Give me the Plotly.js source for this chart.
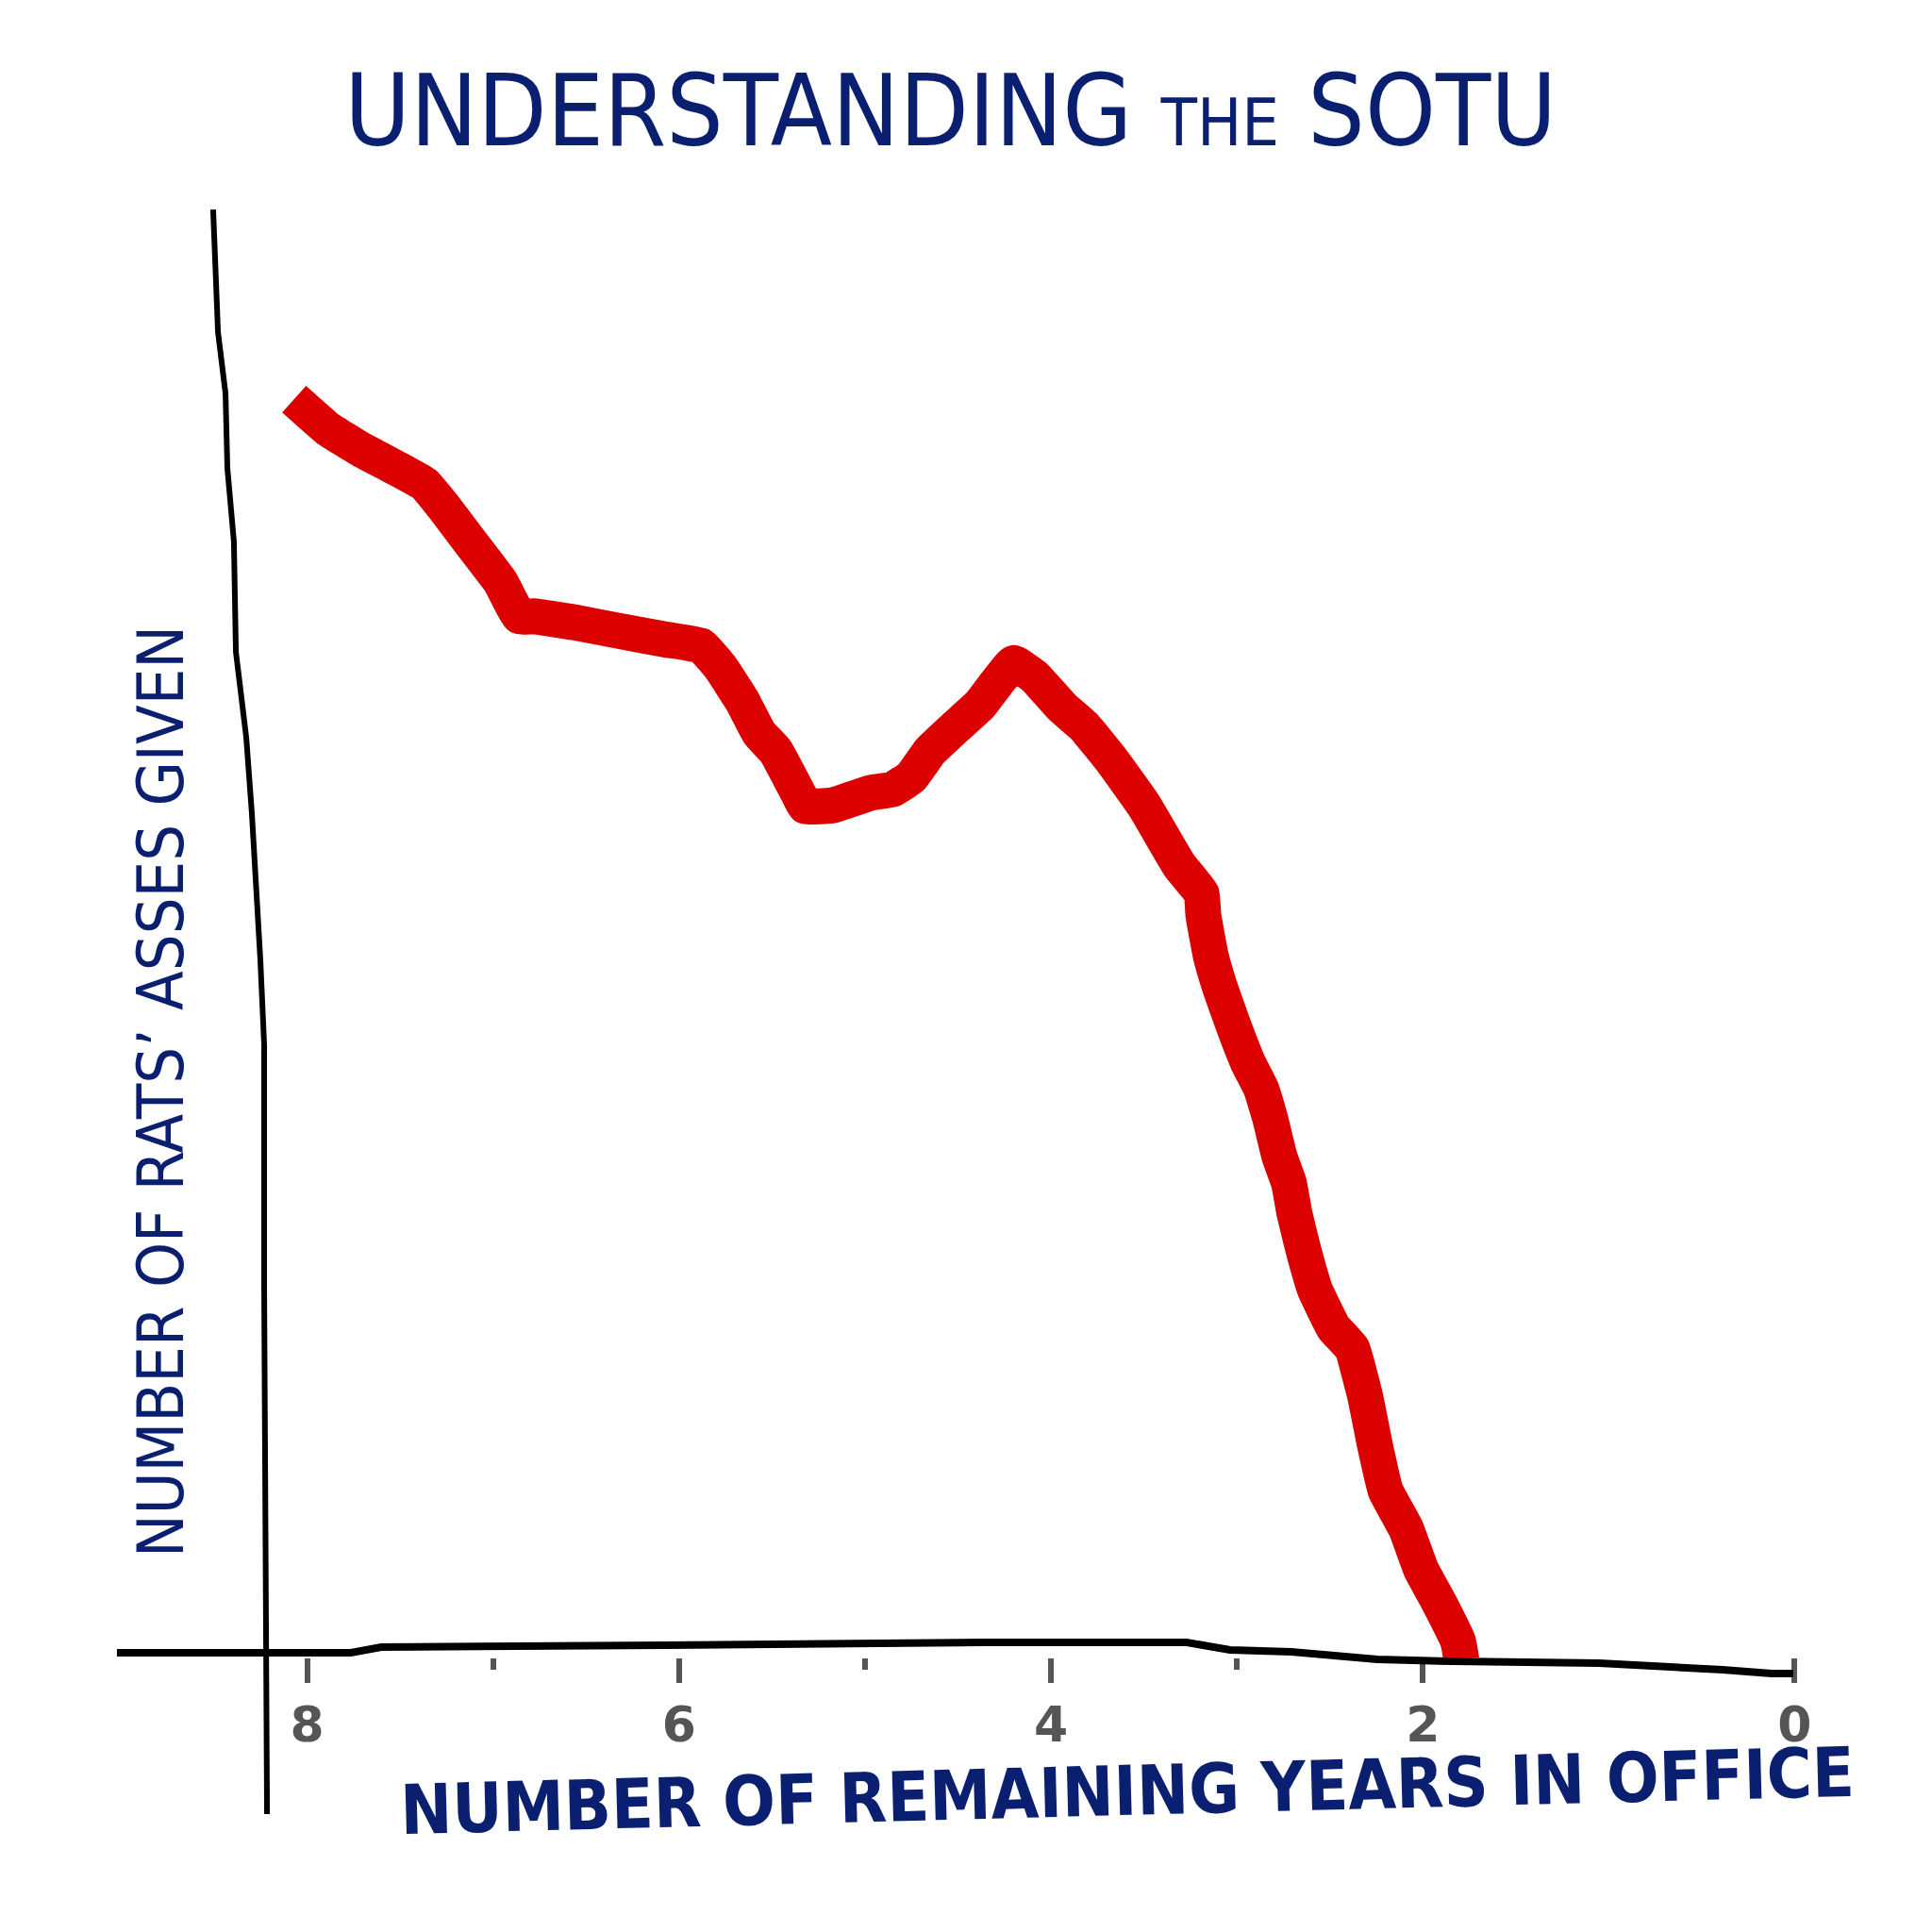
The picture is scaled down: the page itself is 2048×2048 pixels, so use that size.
<!DOCTYPE html>
<html>
<head>
<meta charset="utf-8">
<script src="https://cdn.plot.ly/plotly-3.0.1.min.js"></script>
<style>html,body{margin:0;padding:0;background:#fff;}</style>
</head>
<body>
<div id="chart" style="width:2048px;height:2048px;"></div>
<script>
// ---- data ----
const yearsRemaining = [8.07, 7.89, 7.71, 7.51, 7.37, 7.27, 7.13, 6.96, 6.86, 6.78, 6.56, 6.32, 6.07, 5.88, 5.78, 5.66, 5.57, 5.48, 5.36, 5.32, 5.17, 4.97, 4.85, 4.75, 4.65, 4.51, 4.38, 4.29, 4.20, 4.09, 3.94, 3.82, 3.67, 3.50, 3.31, 3.19, 3.18, 3.14, 3.09, 3.02, 2.94, 2.87, 2.82, 2.77, 2.72, 2.69, 2.64, 2.58, 2.48, 2.38, 2.31, 2.26, 2.20, 2.09, 2.01, 1.91, 1.81, 1.78];
const ratsAssesGiven = [102.6, 100.2, 98.5, 96.9, 95.7, 93.9, 91.1, 87.7, 84.9, 84.9, 84.4, 83.7, 83.0, 82.5, 80.8, 78.0, 75.4, 73.9, 70.5, 69.4, 69.5, 70.5, 70.8, 71.8, 73.9, 75.9, 77.7, 79.5, 81.1, 80.0, 77.5, 75.9, 73.1, 69.5, 64.6, 62.3, 60.5, 57.2, 54.6, 51.6, 48.5, 46.4, 43.9, 40.8, 38.7, 36.2, 33.1, 30.0, 26.9, 25.2, 21.3, 17.5, 13.6, 10.5, 7.2, 4.4, 1.3, -1.4];
const majorTicks = [8, 6, 4, 2, 0];
const majorTickLabels = ["8", "6", "4", "2", "0"];
const minorTicks = [7, 5, 3];

const titleText = "UNDERSTANDING <span style=\"font-size:70px\">THE</span> SOTU";
const xTitleText = "NUMBER OF REMAINING YEARS IN OFFICE";
const yTitleText = "NUMBER OF RATS\u2019 ASSES GIVEN";

// ---- layout geometry ----
const W = 2048, H = 2048;
const M = {l: 227, r: 47, t: 132, b: 291};
const PW = W - M.l - M.r, PH = H - M.t - M.b;
const px2paper = (p) => [(p[0] - M.l) / PW, (H - M.b - p[1]) / PH];
function pathFrom(points) {
  return points.map((p, i) => {
    const q = px2paper(p);
    return (i ? 'L' : 'M') + q[0].toFixed(4) + ',' + q[1].toFixed(4);
  }).join(' ');
}
// hand-drawn axis strokes (decoration)
const yAxisStroke = [[226,222],[231,352],[239,417],[241,496],[248,574],[250,691],[261,782],[267,861],[270,913],[276,1017],[280,1108],[280,1369],[283,1923]];
const xAxisStroke = [[124,1752],[372,1752],[404,1746],[704,1744],[1043,1741],[1258,1741],[1304,1749],[1369,1751],[1460,1759],[1539,1761],[1695,1763],[1826,1770],[1878,1774],[1901,1774]];

const navy = "#0b1f70";
const handFont = "DejaVu Sans Condensed, Liberation Sans Narrow, DejaVu Sans, sans-serif";

const trace = {
  type: "scatter",
  mode: "lines",
  x: yearsRemaining,
  y: ratsAssesGiven,
  line: {color: "#dd0000", width: 38, shape: "spline", smoothing: 0.3},
  hoverinfo: "skip",
  showlegend: false
};

const xTitlePos = px2paper([1195, 1898]);
const yTitlePos = px2paper([170, 1157]);

const layout = {
  width: W, height: H, autosize: false,
  margin: M,
  paper_bgcolor: "#ffffff", plot_bgcolor: "#ffffff",
  showlegend: false,
  title: {
    text: titleText,
    x: 0.492, xanchor: "center", xref: "container",
    y: 0.943, yanchor: "middle", yref: "container",
    font: {family: handFont, size: 106, color: navy}
  },
  xaxis: {
    range: [8.5, -0.5],
    tickmode: "array", tickvals: majorTicks, ticktext: majorTickLabels,
    ticks: "outside", ticklen: 26, tickwidth: 6, tickcolor: "#555555",
    minor: {tickmode: "array", tickvals: minorTicks, ticks: "outside", ticklen: 12, tickwidth: 6, tickcolor: "#555555", showgrid: false},
    tickfont: {family: "DejaVu Sans", size: 52, color: "#555555", weight: "bold"},
    showgrid: false, zeroline: false, showline: false
  },
  yaxis: {
    range: [0, 125],
    showticklabels: false, ticks: "", showgrid: false, zeroline: false, showline: false
  },
  shapes: [
    {type: "path", xref: "paper", yref: "paper", path: pathFrom(yAxisStroke), line: {color: "#000000", width: 6}, layer: "below"},
    {type: "path", xref: "paper", yref: "paper", path: pathFrom(xAxisStroke), line: {color: "#000000", width: 8}, layer: "above"}
  ],
  annotations: [
    {text: xTitleText, xref: "paper", yref: "paper", x: xTitlePos[0], y: xTitlePos[1],
     xanchor: "center", yanchor: "middle", textangle: -1.5, showarrow: false,
     font: {family: handFont, size: 73, color: navy, weight: "bold"}},
    {text: yTitleText, xref: "paper", yref: "paper", x: yTitlePos[0], y: yTitlePos[1],
     xanchor: "center", yanchor: "middle", textangle: -90, showarrow: false,
     font: {family: handFont, size: 68, color: navy}}
  ]
};

Plotly.newPlot("chart", [trace], layout, {staticPlot: true, displayModeBar: false});
</script>
</body>
</html>
